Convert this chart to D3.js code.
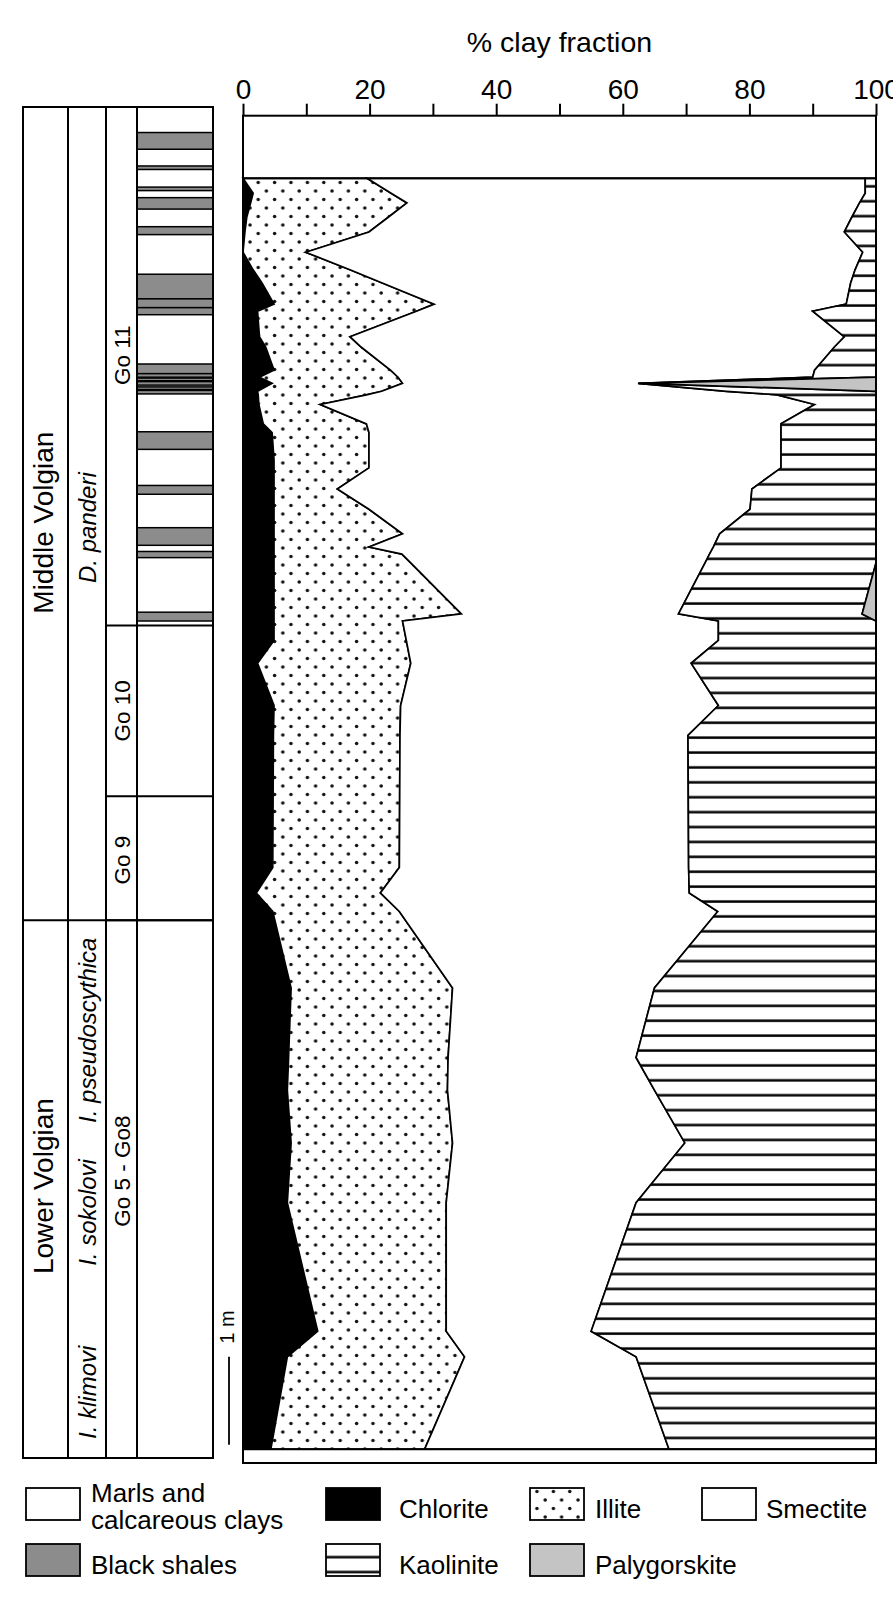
<!DOCTYPE html>
<html>
<head>
<meta charset="utf-8">
<script src="https://cdn.jsdelivr.net/npm/d3@7"></script>
<style>
  body { margin: 0; background: #fff; }
  svg { display: block; font-family: "Liberation Sans", Arial, Helvetica, sans-serif; }
</style>
</head>
<body>
<svg id="chart" width="893" height="1597"></svg>
<script>
// DATA (depth in m below top of the logged column, % of clay fraction)
const sampleDepth = [0.81, 0.98, 1.09, 1.25, 1.42, 1.65, 1.85, 2.00, 2.24, 2.32, 2.61, 2.73, 2.99, 3.07, 3.14,
  3.23, 3.27, 3.38, 3.60, 3.70, 4.01, 4.10, 4.34, 4.57, 4.85, 5.00, 5.08, 5.18, 5.76, 5.84, 6.06, 6.32, 6.80,
  7.14, 8.64, 8.93, 9.14, 10.01, 10.80, 11.17, 11.77, 12.45, 13.91, 14.20, 15.25];

const chlorite = [0, 1.6, 1.2, 0.6, 0.3, 0, 1.6, 3.0, 4.9, 2.3, 2.6, 3.6, 4.9, 2.6, 4.6,
  2.3, 2.4, 2.5, 3.2, 4.6, 4.9, 4.9, 4.9, 4.9, 4.9, 4.9, 4.9, 4.9, 4.9, 4.9, 4.9, 2.3, 4.9,
  4.8, 4.7, 2.1, 4.7, 7.6, 7.2, 7.0, 7.6, 7.0, 11.8, 7.0, 4.4];

const illite = [19.6, 21.8, 24.7, 22.4, 19.6, 9.9, 15.3, 19.0, 25.3, 25.1, 14.3, 15.1, 18.4, 21.9, 20.6,
  19.6, 17.1, 9.7, 16.3, 15.3, 15.0, 15.0, 10.0, 15.0, 20.3, 15.0, 20.2, 21.6, 29.6, 20.3, 20.9, 24.2, 20.0,
  20.0, 20.0, 19.6, 20.0, 25.5, 25.2, 25.3, 25.5, 25.1, 20.3, 28.0, 24.3];

const smectite = [78.7, 74.9, 71.5, 73.2, 75.1, 88.0, 79.8, 74.0, 65.1, 62.6, 78.1, 74.7, 67.0, 65.5, 37.2,
  54.5, 64.9, 78.1, 65.5, 65.1, 65.1, 65.1, 65.5, 60.2, 50.1, 54.4, 48.6, 46.5, 34.3, 49.9, 49.3, 44.3, 50.2,
  45.5, 45.7, 48.8, 50.3, 31.9, 29.7, 32.7, 36.7, 30.0, 22.9, 27.1, 38.6];

const kaolinite = [1.7, 1.7, 2.6, 3.8, 5.0, 2.1, 3.3, 4.0, 4.7, 10.0, 5.0, 6.6, 9.7, 10.0, 0.2,
  23.6, 15.6, 9.7, 15.0, 15.0, 15.0, 15.0, 19.6, 19.9, 24.7, 25.7, 26.3, 27.0, 29.0, 24.9, 24.9, 29.2, 24.9,
  29.7, 29.6, 29.5, 25.0, 35.0, 37.9, 35.0, 30.2, 37.9, 45.0, 37.9, 32.7];

const palygorskite = [0, 0, 0, 0, 0, 0, 0, 0, 0, 0, 0, 0, 0, 0, 37.4,
  0, 0, 0, 0, 0, 0, 0, 0, 0, 0, 0, 0, 0, 2.2, 0, 0, 0, 0,
  0, 0, 0, 0, 0, 0, 0, 0, 0, 0, 0, 0];

const mineralKeys = ["chlorite", "illite", "smectite", "kaolinite", "palygorskite"];

const xTicks = [0, 10, 20, 30, 40, 50, 60, 70, 80, 90, 100];
const xLabels = [0, 20, 40, 60, 80, 100];

// black shale beds, [top, base] in m
const shaleBeds = [[0.29, 0.48], [0.67, 0.71], [0.91, 0.95], [1.03, 1.16], [1.36, 1.45], [1.90, 2.18],
  [2.18, 2.28], [2.28, 2.36], [2.92, 3.03], [3.03, 3.07], [3.08, 3.11], [3.12, 3.16], [3.18, 3.21],
  [3.22, 3.26], [3.69, 3.89], [4.30, 4.40], [4.78, 4.98], [5.05, 5.12], [5.74, 5.84]];

const stages = [
  { name: "Middle Volgian", top: 0, base: 9.24 },
  { name: "Lower Volgian", top: 9.24, base: 15.35 }
];

const zones = [
  { name: "D. panderi", top: 0, base: 9.24 },
  { name: "I. pseudoscythica", top: 9.24, base: 11.74 },
  { name: "I. sokolovi", top: 11.74, base: 13.38 },
  { name: "I. klimovi", top: 13.38, base: 15.35 }
];

const units = [
  { name: "Go 11", top: 0, base: 5.89 },
  { name: "Go 10", top: 5.89, base: 7.83 },
  { name: "Go 9", top: 7.83, base: 9.24 },
  { name: "Go 5 - Go8", top: 9.24, base: 15.35 }
];

const columnBase = 15.35;
const scaleBarTop = 14.2;

const legendRow1 = [
  { lines: ["Marls and", "calcareous clays"], fill: "#fff" },
  { lines: ["Chlorite"], fill: "#000" },
  { lines: ["Illite"], fill: "url(#dots)" },
  { lines: ["Smectite"], fill: "#fff" }
];
const legendRow2 = [
  { lines: ["Black shales"], fill: "#8c8c8c" },
  { lines: ["Kaolinite"], fill: "url(#hatch)" },
  { lines: ["Palygorskite"], fill: "#c4c4c4" }
];

// SETUP
const svg = d3.select("#chart");
const defs = svg.append("defs");

const x = d3.scaleLinear().domain([0, 100]).range([243, 876]);
const y = d3.scaleLinear().domain([0, columnBase]).range([107, 1458]);

const frameTop = 115.7;
const frameBottom = 1463;
const colX = [23, 68, 106, 137, 213];

// label nudges (px) along the column, same order as the arrays above
const stageShift = [9, -3];
const zoneShift = [14, 0, 0, 21];
const unitShift = [-11, 0, 2, -18];

const mineralFill = {
  chlorite: "#000",
  illite: "url(#dots)",
  smectite: "#fff",
  kaolinite: "url(#hatch)",
  palygorskite: "#c4c4c4"
};

// PATTERNS
const dots = defs.append("pattern")
  .attr("id", "dots")
  .attr("patternUnits", "userSpaceOnUse")
  .attr("width", 16.4)
  .attr("height", 17);
dots.append("rect").attr("width", 16.4).attr("height", 17).attr("fill", "#fff");
dots.selectAll("circle")
  .data([[4, 4], [12.2, 12.5]])
  .join("circle")
  .attr("cx", d => d[0])
  .attr("cy", d => d[1])
  .attr("r", 1.75)
  .attr("fill", "#111");

const hatch = defs.append("pattern")
  .attr("id", "hatch")
  .attr("patternUnits", "userSpaceOnUse")
  .attr("width", 10)
  .attr("height", 14.9);
hatch.append("rect").attr("width", 10).attr("height", 14.9).attr("fill", "#fff");
hatch.append("rect").attr("y", 6.3).attr("width", 10).attr("height", 2.5).attr("fill", "#000");

// TITLE + AXIS
svg.append("text")
  .attr("x", (x(0) + x(100)) / 2)
  .attr("y", 51.5)
  .attr("text-anchor", "middle")
  .attr("font-size", 28.5)
  .text("% clay fraction");

svg.append("g")
  .attr("transform", `translate(0,${frameTop})`)
  .call(d3.axisTop(x)
    .tickValues(xTicks)
    .tickSize(12)
    .tickSizeOuter(0)
    .tickPadding(5)
    .tickFormat(d => xLabels.includes(d) ? d : ""))
  .call(g => g.select(".domain").remove())
  .call(g => g.selectAll("line").attr("stroke", "#000").attr("stroke-width", 2))
  .call(g => g.selectAll("text")
    .attr("fill", "#000")
    .attr("font-size", 28)
    .attr("font-family", "Liberation Sans, Arial, sans-serif"));

// STACKED AREAS
const rows = sampleDepth.map((d, i) => ({
  depth: d,
  chlorite: chlorite[i],
  illite: illite[i],
  smectite: smectite[i],
  kaolinite: kaolinite[i],
  palygorskite: palygorskite[i]
}));

const series = d3.stack().keys(mineralKeys)(rows);

const area = d3.area()
  .y(d => y(d.data.depth))
  .x0(d => x(d[0]))
  .x1(d => x(d[1]));

svg.append("g")
  .selectAll("path")
  .data(series)
  .join("path")
  .attr("d", area)
  .attr("fill", d => mineralFill[d.key])
  .attr("stroke", "#000")
  .attr("stroke-width", 1.7)
  .attr("stroke-linejoin", "miter")
  .attr("stroke-miterlimit", 8);

// plot frame
const frame = svg.append("g").attr("fill", "none").attr("stroke", "#000").attr("stroke-width", 2);
frame.append("rect")
  .attr("x", x(0))
  .attr("y", frameTop)
  .attr("width", x(100) - x(0))
  .attr("height", frameBottom - frameTop);
[sampleDepth[0], sampleDepth[sampleDepth.length - 1]].forEach(d => {
  frame.append("line")
    .attr("x1", x(0)).attr("x2", x(100))
    .attr("y1", y(d)).attr("y2", y(d));
});

// STRATIGRAPHIC COLUMN
const strat = svg.append("g");

strat.append("g")
  .selectAll("rect")
  .data(shaleBeds)
  .join("rect")
  .attr("x", colX[3])
  .attr("width", colX[4] - colX[3])
  .attr("y", d => y(d[0]))
  .attr("height", d => y(d[1]) - y(d[0]))
  .attr("fill", "#8c8c8c")
  .attr("stroke", "#000")
  .attr("stroke-width", 1.5);

const grid = strat.append("g").attr("stroke", "#000").attr("stroke-width", 2).attr("fill", "none");
grid.append("rect")
  .attr("x", colX[0]).attr("y", y(0))
  .attr("width", colX[4] - colX[0]).attr("height", y(columnBase) - y(0));
colX.slice(1, 4).forEach(cx => {
  grid.append("line").attr("x1", cx).attr("x2", cx).attr("y1", y(0)).attr("y2", y(columnBase));
});
// stage boundary crosses the whole column, unit boundaries the two right columns
stages.slice(1).forEach(s => {
  grid.append("line").attr("x1", colX[0]).attr("x2", colX[4]).attr("y1", y(s.top)).attr("y2", y(s.top));
});
units.slice(1).forEach(u => {
  grid.append("line").attr("x1", colX[2]).attr("x2", colX[4]).attr("y1", y(u.top)).attr("y2", y(u.top));
});

function verticalLabel(g, text, bx, cy, size, italic) {
  g.append("text")
    .attr("transform", `translate(${bx},${cy}) rotate(-90)`)
    .attr("text-anchor", "middle")
    .attr("font-size", size)
    .attr("font-style", italic ? "italic" : "normal")
    .text(text);
}

stages.forEach((s, i) => verticalLabel(strat, s.name, 53, y((s.top + s.base) / 2) + stageShift[i], 28, false));
zones.forEach((z, i) => verticalLabel(strat, z.name, 96, y((z.top + z.base) / 2) + zoneShift[i], 24, true));
units.forEach((u, i) => verticalLabel(strat, u.name, 129.5, y((u.top + u.base) / 2) + unitShift[i], 22.5, false));

// 1 m scale bar
strat.append("line")
  .attr("x1", 229).attr("x2", 229)
  .attr("y1", y(scaleBarTop)).attr("y2", y(scaleBarTop + 1))
  .attr("stroke", "#000").attr("stroke-width", 1.8);
strat.append("text")
  .attr("transform", `translate(233.5,${y(scaleBarTop) - 13}) rotate(-90)`)
  .attr("text-anchor", "start")
  .attr("font-size", 20)
  .text("1 m");

// LEGEND
const legend = svg.append("g");
const boxW = 54, boxH = 32;
const legendBoxX = [26, 326, 530, 702];
const legendTextX = [91, 399, 595, 766];
const legendRowY = [1488, 1544];

[legendRow1, legendRow2].forEach((row, r) => {
  row.forEach((item, c) => {
    const g = legend.append("g");
    g.append("rect")
      .attr("x", legendBoxX[c]).attr("y", legendRowY[r])
      .attr("width", boxW).attr("height", boxH)
      .attr("fill", item.fill)
      .attr("stroke", "#000").attr("stroke-width", 1.8);
    const baseY = item.lines.length === 1 ? legendRowY[r] + boxH - 2 : legendRowY[r] + 14;
    const label = g.append("text")
      .attr("x", legendTextX[c])
      .attr("y", baseY)
      .attr("font-size", 26);
    item.lines.forEach((t, k) => {
      label.append("tspan")
        .attr("x", legendTextX[c])
        .attr("dy", k === 0 ? 0 : 27)
        .text(t);
    });
  });
});
</script>
</body>
</html>
